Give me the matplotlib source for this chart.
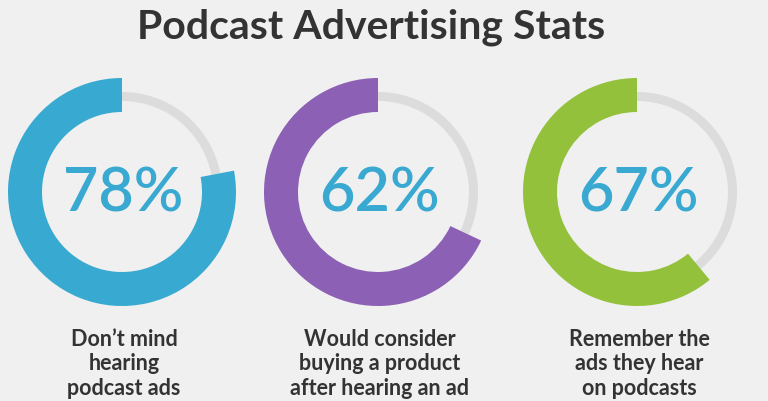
import matplotlib.pyplot as plt
from matplotlib.patches import Wedge

TITLE = "Podcast Advertising Stats"
# the printed numbers and the arcs as actually drawn in the source graphic
pct_labels = ["78%", "62%", "67%"]
arc_values = [78, 68, 61]
colors = ["#38a9d0", "#8c60b5", "#93c13c"]
labels = [
    "Don\u2019t mind\nhearing\npodcast ads",
    "Would consider\nbuying a product\nafter hearing an ad",
    "Remember the\nads they hear\non podcasts",
]

BG = "#f0f0f0"
TRACK = "#dcdcdc"
TEXT_BLUE = "#39a9d1"
DARK = "#333333"

fig = plt.figure(figsize=(7.68, 4.02), dpi=100, facecolor=BG)
ax = fig.add_axes([0, 0, 1, 1])
ax.set_xlim(0, 768)
ax.set_ylim(402, 0)
ax.set_aspect("equal")
ax.axis("off")

centers_x = [122, 378, 637]
cy = 193
r_outer = 114
ring_w = 34

for cx, val, pct, col, lab in zip(centers_x, arc_values, pct_labels, colors, labels):
    sweep = 360 * val / 100
    # y axis points down here, so the arc goes round with negated angles
    ax.add_patch(Wedge((cx, cy), 100, -90, 270 - sweep, width=9,
                       facecolor=TRACK, edgecolor="none"))
    ax.add_patch(Wedge((cx, cy), r_outer, -90 - sweep, -90, width=ring_w,
                       facecolor=col, edgecolor="none"))
    ax.text(cx + 1, cy + 1, pct, ha="center", va="center", fontsize=44,
            family="Lato", fontweight="semibold", color=TEXT_BLUE)
    ax.text(cx + 2, 364, lab, ha="center", va="center", fontsize=15.5, family="Lato",
            fontweight="bold", color=DARK, linespacing=1.2)

ax.text(371, 27, TITLE, ha="center", va="center", fontsize=29.5, family="Lato",
        fontweight="bold", color=DARK)

fig.savefig("out.png", dpi=100, facecolor=BG)
